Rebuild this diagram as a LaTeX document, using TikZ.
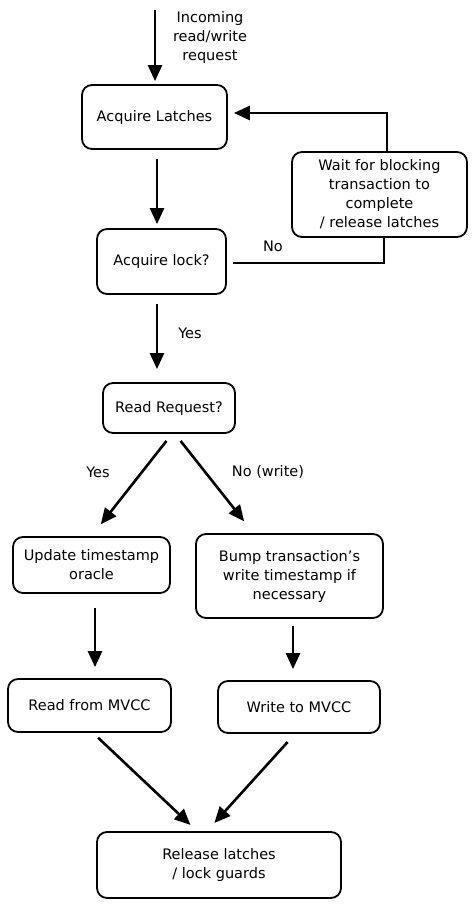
\documentclass[tikz,border=0pt]{standalone}
\usepackage{fontspec}
\setmainfont{DejaVu Sans}
\usetikzlibrary{arrows.meta}
\begin{document}
\begin{tikzpicture}[x=1pt,y=-1pt,
  box/.style={draw=black,line width=1.8pt,rounded corners=10pt,align=center,inner sep=0pt,font=\fontsize{14.5}{19}\selectfont},
  arr/.style={line width=2.6pt,-{Triangle[length=16pt,width=14pt]}},
  ln/.style={line width=2.6pt},
  lbl/.style={align=center,font=\fontsize{14.5}{19}\selectfont}]
\useasboundingbox (0,0) rectangle (474,907);
\fill[white] (0,0) rectangle (474,907);
% nodes
\node[box,minimum width=145pt,minimum height=64pt] (lat) at (154.5,117) {Acquire Latches};
\node[box,minimum width=175pt,minimum height=85pt] (wait) at (379.5,194.5) {Wait for blocking\\transaction to\\complete\\/ release latches};
\node[box,minimum width=129pt,minimum height=65pt] (lock) at (161.5,261.5) {Acquire lock?};
\node[box,minimum width=132pt,minimum height=50pt] (rr) at (169,408) {Read Request?};
\node[box,minimum width=157pt,minimum height=56pt] (upd) at (91.5,565) {Update timestamp\\oracle};
\node[box,minimum width=187pt,minimum height=84pt] (bump) at (289.5,576) {Bump transaction's\\write timestamp if\\necessary};
\node[box,minimum width=163pt,minimum height=53pt] (rm) at (89.5,705.5) {Read from MVCC};
\node[box,minimum width=162pt,minimum height=52pt] (wm) at (299,707) {Write to MVCC};
\node[box,minimum width=244pt,minimum height=66pt] (rel) at (219,865) {Release latches\\/ lock guards};
% labels
\node[lbl] (tin) at (210,38) {Incoming\\read/write\\request};
\node[lbl] (tno) at (273,246) {No};
\node[lbl] (tyes1) at (190,333) {Yes};
\node[lbl] (tyes2) at (98,472) {Yes};
\node[lbl] (tnow) at (268,472) {No (write)};
% helper coordinates
\coordinate (start) at (155,10);
\coordinate (x157) at (157,0);
\coordinate (x95) at (95,0);
\coordinate (x293) at (293,0);
\coordinate (x387) at (387,0);
\coordinate (x384) at (384,0);
\coordinate (y113) at (0,113);
\coordinate (y263) at (0,263);
% connectors
\draw[arr,shorten >=3pt] (start) -- (start |- lat.north);
\draw[arr,shorten <=9pt,shorten >=4pt] (lat.south -| x157) -- (lock.north -| x157);
\draw[arr,shorten <=9pt,shorten >=13pt] (lock.south -| x157) -- (rr.north -| x157);
\draw[arr,shorten <=9pt,shorten >=15pt] ([xshift=3pt]rr.south) -- (upd.north);
\draw[arr,shorten <=9pt,shorten >=15pt] ([xshift=6pt]rr.south) -- ([xshift=-36pt]bump.north);
\draw[arr,shorten <=14pt,shorten >=11pt] (upd.south -| x95) -- (rm.north -| x95);
\draw[arr,shorten <=7pt,shorten >=11pt] (bump.south -| x293) -- (wm.north -| x293);
\draw[arr,shorten <=7pt,shorten >=9pt] ([xshift=3.5pt]rm.south) -- ([xshift=-22pt]rel.north);
\draw[arr,shorten <=11pt,shorten >=11pt] ([xshift=-4pt]wm.south) -- ([xshift=-12pt]rel.north);
\draw[arr,shorten >=6pt] (wait.north -| x387) -- (x387 |- y113) -- (lat.east |- y113);
\draw[ln] (lock.east |- y263) ++(6pt,0) -- (x384 |- y263) -- (wait.south -| x384);
\end{tikzpicture}
\end{document}
